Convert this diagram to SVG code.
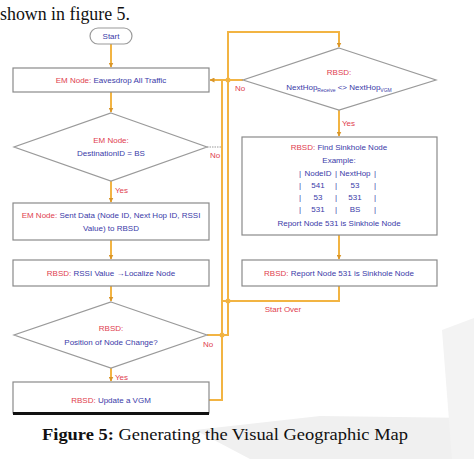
<svg xmlns="http://www.w3.org/2000/svg" width="474" height="459" viewBox="0 0 474 459">
<defs>
<style>
.box{fill:#fff;stroke:#8a8a8a;stroke-width:1.2}
.dia{fill:#fff;stroke:#9a9a9a;stroke-width:1.2}
.t{font-family:"Liberation Sans",Arial,sans-serif;font-size:8px;text-anchor:middle}
.b{fill:#3a3aa8}
.r{fill:#e0404e}
.lbl{font-family:"Liberation Sans",Arial,sans-serif;font-size:8px;fill:#e0404e}
.ln{fill:none;stroke:#f2b443;stroke-width:2}
.dot{fill:#f2b443}
.cap{font-family:"Liberation Serif","Times New Roman",serif;fill:#111}
</style>
<marker id="ah" viewBox="0 0 10 10" refX="9" refY="5" markerWidth="5" markerHeight="5" orient="auto" markerUnits="userSpaceOnUse">
<path d="M0,0 L10,5 L0,10 z" fill="#d9962a"/>
</marker>
</defs>
<rect width="474" height="459" fill="#fff"/>
<polygon points="195,430 320,416 474,418 474,459 250,459" fill="#f0f0f0"/>
<polygon points="442,330 474,318 474,459 452,459" fill="#f3f3f3"/>
<text class="cap" x="0" y="20" font-size="18" textLength="130" lengthAdjust="spacingAndGlyphs">shown in figure 5.</text>

<g id="connectors">
<line class="ln" x1="111" y1="44" x2="111" y2="67" marker-end="url(#ah)"/>
<line class="ln" x1="111" y1="92" x2="111" y2="112" marker-end="url(#ah)"/>
<line class="ln" x1="111" y1="181" x2="111" y2="202" marker-end="url(#ah)"/>
<line class="ln" x1="111" y1="240" x2="111" y2="259" marker-end="url(#ah)"/>
<line class="ln" x1="111" y1="286" x2="111" y2="301" marker-end="url(#ah)"/>
<line class="ln" x1="111" y1="368" x2="111" y2="381" marker-end="url(#ah)"/>
<line class="ln" x1="339" y1="110" x2="339" y2="136" marker-end="url(#ah)"/>
<line class="ln" x1="339" y1="235" x2="339" y2="259" marker-end="url(#ah)"/>
<polyline class="ln" points="339,286 339,301 222,301"/>
<polyline class="ln" points="209,400 222,400 222,80"/>
<line x1="207" y1="147" x2="221" y2="147" stroke="#9a9a9a" stroke-width="1.2" stroke-dasharray="1.5,1"/>
<line class="ln" x1="243" y1="80" x2="210" y2="80" marker-end="url(#ah)"/>
<polyline class="ln" points="207,335 228,335 228,32 339,32 339,47" marker-end="url(#ah)"/>
<circle class="dot" cx="228" cy="80" r="2.5"/>
<circle class="dot" cx="222" cy="335" r="2.5"/>
<circle class="dot" cx="228" cy="301" r="2.5"/>
<text class="lbl" x="235" y="91">No</text>
<text class="lbl" x="210" y="158">No</text>
<text class="lbl" x="203" y="347">No</text>
<text class="lbl" x="115" y="193">Yes</text>
<text class="lbl" x="115" y="380">Yes</text>
<text class="lbl" x="342" y="126">Yes</text>
<text class="lbl" x="283" y="312" text-anchor="middle">Start Over</text>
</g>

<g id="start">
<rect x="90" y="28" width="42" height="16" rx="8" fill="#fff" stroke="#9a9a9a" stroke-width="1.2"/>
<text class="t b" x="111" y="39">Start</text>
</g>

<g id="eavesdrop">
<rect class="box" x="13" y="68" width="196" height="24"/>
<text class="t" x="111" y="83"><tspan class="r">EM Node: </tspan><tspan class="b">Eavesdrop All Traffic</tspan></text>
</g>

<g id="dest-check">
<polygon class="dia" points="111,113 207,147 111,181 14,147"/>
<text class="t r" x="111" y="143">EM Node:</text>
<text class="t b" x="111" y="156">DestinationID = BS</text>
</g>

<g id="sent-data">
<rect class="box" x="13" y="203" width="196" height="37"/>
<text class="t" x="111" y="218"><tspan class="r">EM Node: </tspan><tspan class="b">Sent Data (Node ID, Next Hop ID, RSSI</tspan></text>
<text class="t b" x="111" y="231">Value) to RBSD</text>
</g>

<g id="localize">
<rect class="box" x="13" y="260" width="196" height="26"/>
<text class="t" x="111" y="276"><tspan class="r">RBSD: </tspan><tspan class="b">RSSI Value →Localize Node</tspan></text>
</g>

<g id="position-check">
<polygon class="dia" points="111,302 207,335 111,368 14,335"/>
<text class="t r" x="111" y="331">RBSD:</text>
<text class="t b" x="111" y="345">Position of Node Change?</text>
</g>

<g id="update-vgm">
<rect class="box" x="13" y="382" width="196" height="31"/>
<line x1="13" y1="413.5" x2="209" y2="413.5" stroke="#111" stroke-width="3"/>
<text class="t" x="111" y="403"><tspan class="r">RBSD: </tspan><tspan class="b">Update a VGM</tspan></text>
</g>

<g id="nexthop-check">
<polygon class="dia" points="339,48 436,80 339,110 243,80"/>
<text class="t r" x="339" y="75">RBSD:</text>
<text class="t b" x="339" y="90">NextHop<tspan font-size="5" dy="1.5">Receive</tspan><tspan dy="-1.5"> &lt;&gt; NextHop</tspan><tspan font-size="5" dy="1.5">VGM</tspan></text>
</g>

<g id="find-sinkhole">
<rect class="box" x="242" y="137" width="195" height="98"/>
<text class="t" x="339" y="150"><tspan class="r">RBSD: </tspan><tspan class="b">Find Sinkhole Node</tspan></text>
<text class="t b" x="339" y="163">Example:</text>
<g class="t b">
<text x="300" y="176">|</text><text x="318" y="176">NodeID</text><text x="336" y="176">|</text><text x="355" y="176">NextHop</text><text x="375" y="176">|</text>
<text x="300" y="188">|</text><text x="318" y="188">541</text><text x="336" y="188">|</text><text x="355" y="188">53</text><text x="375" y="188">|</text>
<text x="300" y="200">|</text><text x="318" y="200">53</text><text x="336" y="200">|</text><text x="355" y="200">531</text><text x="375" y="200">|</text>
<text x="300" y="212">|</text><text x="318" y="212">531</text><text x="336" y="212">|</text><text x="355" y="212">BS</text><text x="375" y="212">|</text>
</g>
<text class="t b" x="339" y="226">Report Node 531 is Sinkhole Node</text>
</g>

<g id="report">
<rect class="box" x="242" y="260" width="195" height="26"/>
<text class="t" x="339" y="276"><tspan class="r">RBSD: </tspan><tspan class="b">Report Node 531 is Sinkhole Node</tspan></text>
</g>

<text class="cap" x="42" y="440" font-size="17" textLength="366" lengthAdjust="spacingAndGlyphs"><tspan font-weight="bold">Figure 5:</tspan> Generating the Visual Geographic Map</text>
</svg>
